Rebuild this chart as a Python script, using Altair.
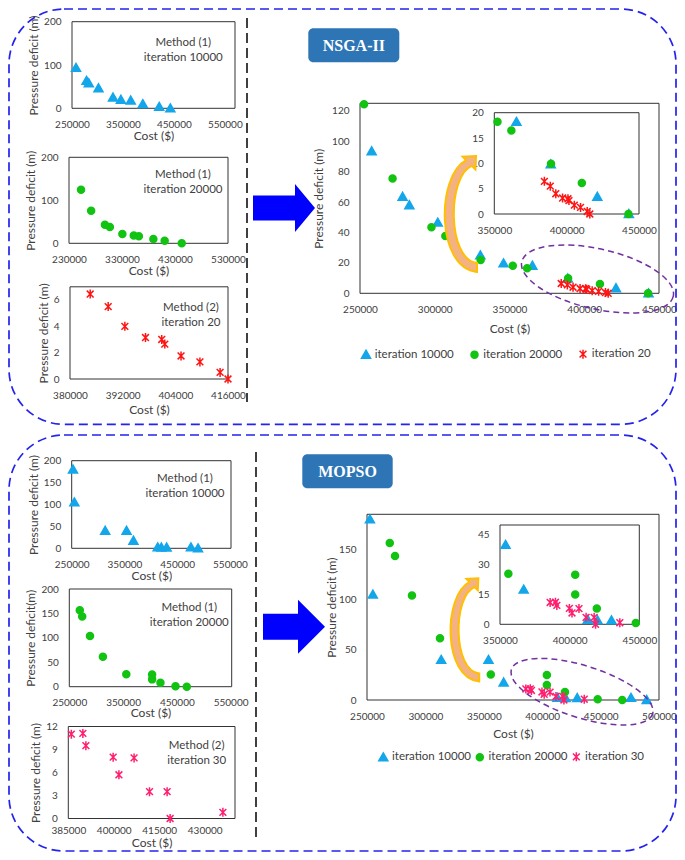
import altair as alt
import pandas as pd

# ---------------- values ----------------
NSGA_SERIES = ["iteration 10000", "iteration 20000", "iteration 20"]
MOPSO_SERIES = ["iteration 10000", "iteration 20000", "iteration 30"]

nsga_10000_cost = [257800, 278500, 283000, 302000, 330500, 346000, 365300, 389000, 421200, 443000]
nsga_10000_pd = [93.5, 63.5, 58.0, 46.5, 25.0, 19.7, 18.2, 9.8, 3.4, 0.0]
nsga_20000_cost = [252700, 271800, 297800, 307100, 330700, 352200, 361800, 389200, 410500, 442700]
nsga_20000_pd = [124.4, 75.5, 43.4, 37.7, 21.9, 18.2, 16.5, 9.9, 6.1, 0.0]
nsga_20_cost = [384600, 388700, 392500, 397200, 400900, 401600, 405300, 409600, 414200, 416000]
nsga_20_pd = [6.45, 5.5, 4.0, 3.15, 3.0, 2.65, 1.75, 1.3, 0.5, 0.0]

mopso_10000_cost = [252500, 255000, 313500, 354000, 367000, 413000, 420000, 430000, 476000, 489500]
mopso_10000_pd = [180.0, 105.0, 40.0, 40.0, 17.5, 2.3, 2.0, 2.0, 2.2, 0.0]
mopso_20000_cost = [269500, 274000, 288500, 312500, 356000, 404000, 404000, 419500, 447500, 468500]
mopso_20000_pd = [156.5, 143.5, 104.0, 61.5, 25.5, 25.0, 15.0, 8.0, 0.7, 0.0]
mopso_30_cost = [386000, 389800, 390800, 399800, 401700, 406700, 411800, 417600, 418600, 436000]
mopso_30_pd = [11.0, 11.1, 9.5, 8.0, 5.7, 7.9, 3.5, 3.5, 0.0, 0.8]

NSGA_COLORS = ["#13A6EA", "#12C312", "#FF1414"]
MOPSO_COLORS = ["#13A6EA", "#12C312", "#FF1F6F"]


def frame_df(cost, pd_, name):
    return pd.DataFrame({"cost": cost, "pd": pd_, "series": [name] * len(cost)})


n10 = frame_df(nsga_10000_cost, nsga_10000_pd, NSGA_SERIES[0])
n20k = frame_df(nsga_20000_cost, nsga_20000_pd, NSGA_SERIES[1])
n20 = frame_df(nsga_20_cost, nsga_20_pd, NSGA_SERIES[2])
nall = pd.concat([n10, n20k, n20], ignore_index=True)
m10 = frame_df(mopso_10000_cost, mopso_10000_pd, MOPSO_SERIES[0])
m20k = frame_df(mopso_20000_cost, mopso_20000_pd, MOPSO_SERIES[1])
m30 = frame_df(mopso_30_cost, mopso_30_pd, MOPSO_SERIES[2])
mall = pd.concat([m10, m20k, m30], ignore_index=True)

# ---------------- layout helpers ----------------
W, H, MARGIN = 669, 844, 8
FONT = "Lato"
TXT = "#404040"
ONE = alt.Data(values=[{"k": 0}])


def v(r):
    return round(r - MARGIN, 2)


def vx(r):
    return min(max(v(r), 1), W - 1)


def vy(r):
    return min(max(v(r), 1), H - 1)


def ellipse_path(a, b):
    k = 0.5523
    return (f"M {a} 0 C {a} {k*b:.2f} {k*a:.2f} {b} 0 {b} "
            f"C {-k*a:.2f} {b} {-a} {k*b:.2f} {-a} 0 "
            f"C {-a} {-k*b:.2f} {-k*a:.2f} {-b} 0 {-b} "
            f"C {k*a:.2f} {-b} {a} {-k*b:.2f} {a} 0 Z")


TRI = "M 0 -4.4 L 4.5 3.5 L -4.5 3.5 Z"
CIR = ellipse_path(3.5, 3.5)
STAR = "M -3.4 -3.4 L 3.4 3.4 M -3.4 3.4 L 3.4 -3.4 M 0 -4.5 L 0 4.5"
ORANGE_ARROW = ("M 17 60 C -24 56 -24 -36 6.2 -51.8 L 2.6 -55.4 L 16 -56 L 15.4 -42.6 "
                "L 11.8 -46.2 C -13 -36 -13 48 17 51 Z")


def block_arrow(head_len, head_half, body_len, body_half):
    return (f"M 0 0 L {-head_len} {-head_half} L {-head_len} {-body_half} "
            f"L {-head_len-body_len} {-body_half} L {-head_len-body_len} {body_half} "
            f"L {-head_len} {body_half} L {-head_len} {head_half} Z")


def frame(xr, yr):
    return alt.Chart(ONE).mark_rect(filled=False, stroke="#333333", strokeWidth=1).encode(
        x=alt.value(v(xr[0])), x2=alt.value(v(xr[1])),
        y=alt.value(v(yr[1])), y2=alt.value(v(yr[0])))


def note(lines, x, y):
    return alt.Chart(ONE).mark_text(
        text=lines, font=FONT, fontSize=11.5, lineHeight=15, color=TXT,
        align="center", baseline="middle").encode(x=alt.value(v(x)), y=alt.value(v(y)))


def panel(df, series, colors, xdom, xr, ydom, yr, xticks, yticks,
          xtitle="Cost ($)", ytitle="Pressure deficit (m)", xlp=11, ylp=11, xtp=2, ytp=3,
          legend=None, flt=None, note_spec=None):
    xs = alt.Scale(domain=xdom, range=[v(xr[0]), v(xr[1])], zero=False, nice=False)
    ys = alt.Scale(domain=ydom, range=[v(yr[0]), v(yr[1])], zero=False, nice=False)
    xkw = dict(orient="bottom", offset=v(yr[0]) - H, values=xticks, format="d",
               labelPadding=xlp, grid=False, domain=False, ticks=False,
               labelFlush=False, labelOverlap=False)
    ykw = dict(orient="left", offset=-v(xr[0]), values=yticks, format="d",
               labelPadding=ylp, grid=False, domain=False, ticks=False,
               labelOverlap=False)
    if xtitle:
        xkw.update(title=xtitle, titlePadding=xtp)
    else:
        xkw.update(title=None)
    if ytitle:
        ykw.update(title=ytitle, titlePadding=ytp)
    else:
        ykw.update(title=None)
    base = alt.Chart(df)
    if flt is not None:
        base = base.transform_filter(flt)
    pts = base.mark_point(filled=True, opacity=1, size=4, strokeWidth=1.5).encode(
        x=alt.X("cost:Q", scale=xs, axis=alt.Axis(**xkw)),
        y=alt.Y("pd:Q", scale=ys, axis=alt.Axis(**ykw)),
        fill=alt.Fill("series:N", scale=alt.Scale(domain=series, range=colors), legend=legend),
        stroke=alt.Stroke("series:N", scale=alt.Scale(domain=series, range=colors), legend=legend),
        shape=alt.Shape("series:N", scale=alt.Scale(domain=series, range=[TRI, CIR, STAR]), legend=legend),
    )
    layers = [frame(xr, yr), pts]
    if note_spec:
        layers.append(note(*note_spec))
    return alt.layer(*layers)


def legend_at(x, y, colpad):
    return alt.Legend(orient="none", legendX=x, legendY=y, direction="horizontal", title=None,
                      symbolSize=4, symbolStrokeWidth=1.5, labelFont=FONT, labelFontSize=11.5,
                      labelColor=TXT, labelOffset=3, columnPadding=colpad, padding=0)


inset_filter = (alt.datum.cost >= 350000) & (alt.datum.cost <= 450000)

# ---------------- NSGA-II group ----------------
p1 = panel(n10, NSGA_SERIES, NSGA_COLORS, [250000, 570000], [72, 235], [0, 200], [108.3, 21.7],
           [250000, 350000, 450000, 550000], [0, 100, 200], xtp=1,
           note_spec=(["Method (1)", "iteration 10000"], 183.3, 42.5))
p2 = panel(n20k, NSGA_SERIES, NSGA_COLORS, [230000, 530000], [69, 228], [0, 200], [243.3, 157.3],
           [230000, 330000, 430000, 530000], [0, 100, 200], xtp=1,
           note_spec=(["Method (1)", "iteration 20000"], 183, 175))
p3 = panel(n20, NSGA_SERIES, NSGA_COLORS, [380000, 416000], [70, 228], [0, 7], [379, 286.8],
           [380000, 392000, 404000, 416000], [0, 2, 4, 6], xtp=4,
           note_spec=(["Method (2)", "iteration 20"], 191, 307.5))
b1 = panel(nall, NSGA_SERIES, NSGA_COLORS, [250000, 450000], [360, 659], [0, 125], [293.3, 103.3],
           [250000, 300000, 350000, 400000, 450000], [0, 20, 40, 60, 80, 100, 120], xtp=9, ytp=6,
           legend=legend_at(v(366) - 5.75, v(353) - 5, 13.5))
i1 = panel(nall, NSGA_SERIES, NSGA_COLORS, [350000, 450000], [494.3, 639], [0, 20], [214, 112.7],
           [350000, 400000, 450000], [0, 5, 10, 15, 20], xtitle=None, ytitle=None,
           flt=inset_filter & (alt.datum.pd <= 20))
top = alt.layer(b1, i1, p1, p2, p3).resolve_scale(x="independent", y="independent")

# ---------------- MOPSO group ----------------
p4 = panel(m10, MOPSO_SERIES, MOPSO_COLORS, [250000, 552000], [71.7, 231], [0, 200], [548.3, 460.7],
           [250000, 350000, 450000, 550000], [0, 50, 100, 150, 200], xtp=1,
           note_spec=(["Method (1)", "iteration 10000"], 185, 479))
p5 = panel(m20k, MOPSO_SERIES, MOPSO_COLORS, [250000, 552000], [69.3, 231.7], [0, 200], [686.7, 589],
           [250000, 350000, 450000, 550000], [0, 50, 100, 150, 200], xtp=0,
           ytitle="Pressure deficit(m)",
           note_spec=(["Method (1)", "iteration 20000"], 189.3, 607.5))
p6 = panel(m30, MOPSO_SERIES, MOPSO_COLORS, [385000, 440000], [68.3, 235], [0, 12], [818.5, 726.5],
           [385000, 400000, 415000, 430000], [0, 3, 6, 9, 12], xlp=7, xtp=2,
           note_spec=(["Method (2)", "iteration 30"], 196.7, 746))
b2 = panel(mall, MOPSO_SERIES, MOPSO_COLORS, [250000, 500000], [367, 659], [0, 185], [700, 514.3],
           [250000, 300000, 350000, 400000, 450000, 500000], [0, 50, 100, 150], xtp=7, ytp=0,
           legend=legend_at(v(383.3) - 5.75, v(755.7) - 5, 1.5))
i2 = panel(mall, MOPSO_SERIES, MOPSO_COLORS, [350000, 450000], [500, 639.3], [0, 50], [624.3, 525],
           [350000, 400000, 450000], [0, 15, 30, 45], xtitle=None, ytitle=None,
           flt=inset_filter & (alt.datum.pd <= 50))
bottom = alt.layer(b2, i2, p4, p5, p6).resolve_scale(x="independent", y="independent")

# ---------------- decorations ----------------
BOX_BLUE = "#2323EE"


def rect_deco(x, x2, y, y2, **kw):
    return alt.Chart(ONE).mark_rect(**kw).encode(
        x=alt.value(x), x2=alt.value(x2), y=alt.value(y), y2=alt.value(y2))


def symbol_deco(path, x, y, size=4, **kw):
    return alt.Chart(ONE).mark_point(shape=path, size=size, opacity=1, **kw).encode(
        x=alt.value(x), y=alt.value(y))


def label_box(text, x0, x1, y0, y1):
    box = rect_deco(v(x0), v(x1), v(y0), v(y1), fill="#2E75B6", cornerRadius=5)
    txt = alt.Chart(ONE).mark_text(text=text, font="Liberation Serif", fontSize=16,
                                   fontWeight="bold", color="white", align="center",
                                   baseline="middle").encode(
        x=alt.value(v((x0 + x1) / 2)), y=alt.value(v((y0 + y1) / 2) + 1))
    return [box, txt]


box_kw = dict(filled=False, stroke=BOX_BLUE, strokeWidth=1.7, strokeDash=[9, 5], cornerRadius=55)
back = [
    rect_deco(vx(3), vx(683), vy(1), vy(424.3), **box_kw),
    rect_deco(vx(3), vx(683), vy(435), vy(858.3), **box_kw),
    alt.Chart(ONE).mark_rule(color="black", strokeWidth=1.5, strokeDash=[10, 5]).encode(
        x=alt.value(v(247)), y=alt.value(v(18)), y2=alt.value(v(402))),
    alt.Chart(ONE).mark_rule(color="black", strokeWidth=1.5, strokeDash=[10, 5]).encode(
        x=alt.value(v(256)), y=alt.value(v(452)), y2=alt.value(v(838))),
    *label_box("NSGA-II", 308.3, 399.3, 28.3, 62.3),
    *label_box("MOPSO", 302.3, 392.7, 454.3, 488.3),
    symbol_deco(block_arrow(20, 24, 42, 12.5), v(315), v(208), filled=True, fill="#0000FF", strokeWidth=0),
    symbol_deco(block_arrow(27, 27, 35, 13), v(325), v(626.7), filled=True, fill="#0000FF", strokeWidth=0),
]
front = [
    symbol_deco(ellipse_path(77.7, 30), v(597.5), v(279), filled=False, stroke="#7030A0",
                strokeWidth=1.5, strokeDash=[6, 4], angle=12.9),
    symbol_deco(ellipse_path(74, 26), v(582), v(691.7), filled=False, stroke="#7030A0",
                strokeWidth=1.5, strokeDash=[6, 4], angle=17.5),
    symbol_deco(ORANGE_ARROW, v(460), v(212), filled=True, fill="#F4B183", stroke="#FFC000",
                strokeWidth=2),
    symbol_deco(ORANGE_ARROW, v(464.1), v(628.1), size=3.17, filled=True, fill="#F4B183",
                stroke="#FFC000", strokeWidth=2),
]

chart = alt.layer(*back, top, bottom, *front).resolve_scale(
    x="independent", y="independent", fill="independent", stroke="independent", shape="independent"
).resolve_legend(
    fill="independent", stroke="independent", shape="independent"
).properties(
    width=W, height=H, padding=0, autosize="none"
).configure_view(strokeWidth=0).configure_axis(
    labelFont=FONT, labelFontSize=10, labelColor=TXT,
    titleFont=FONT, titleFontSize=12, titleFontWeight="normal", titleColor=TXT
)

chart.save("out.html", embed_options={"renderer": "svg", "actions": False})
